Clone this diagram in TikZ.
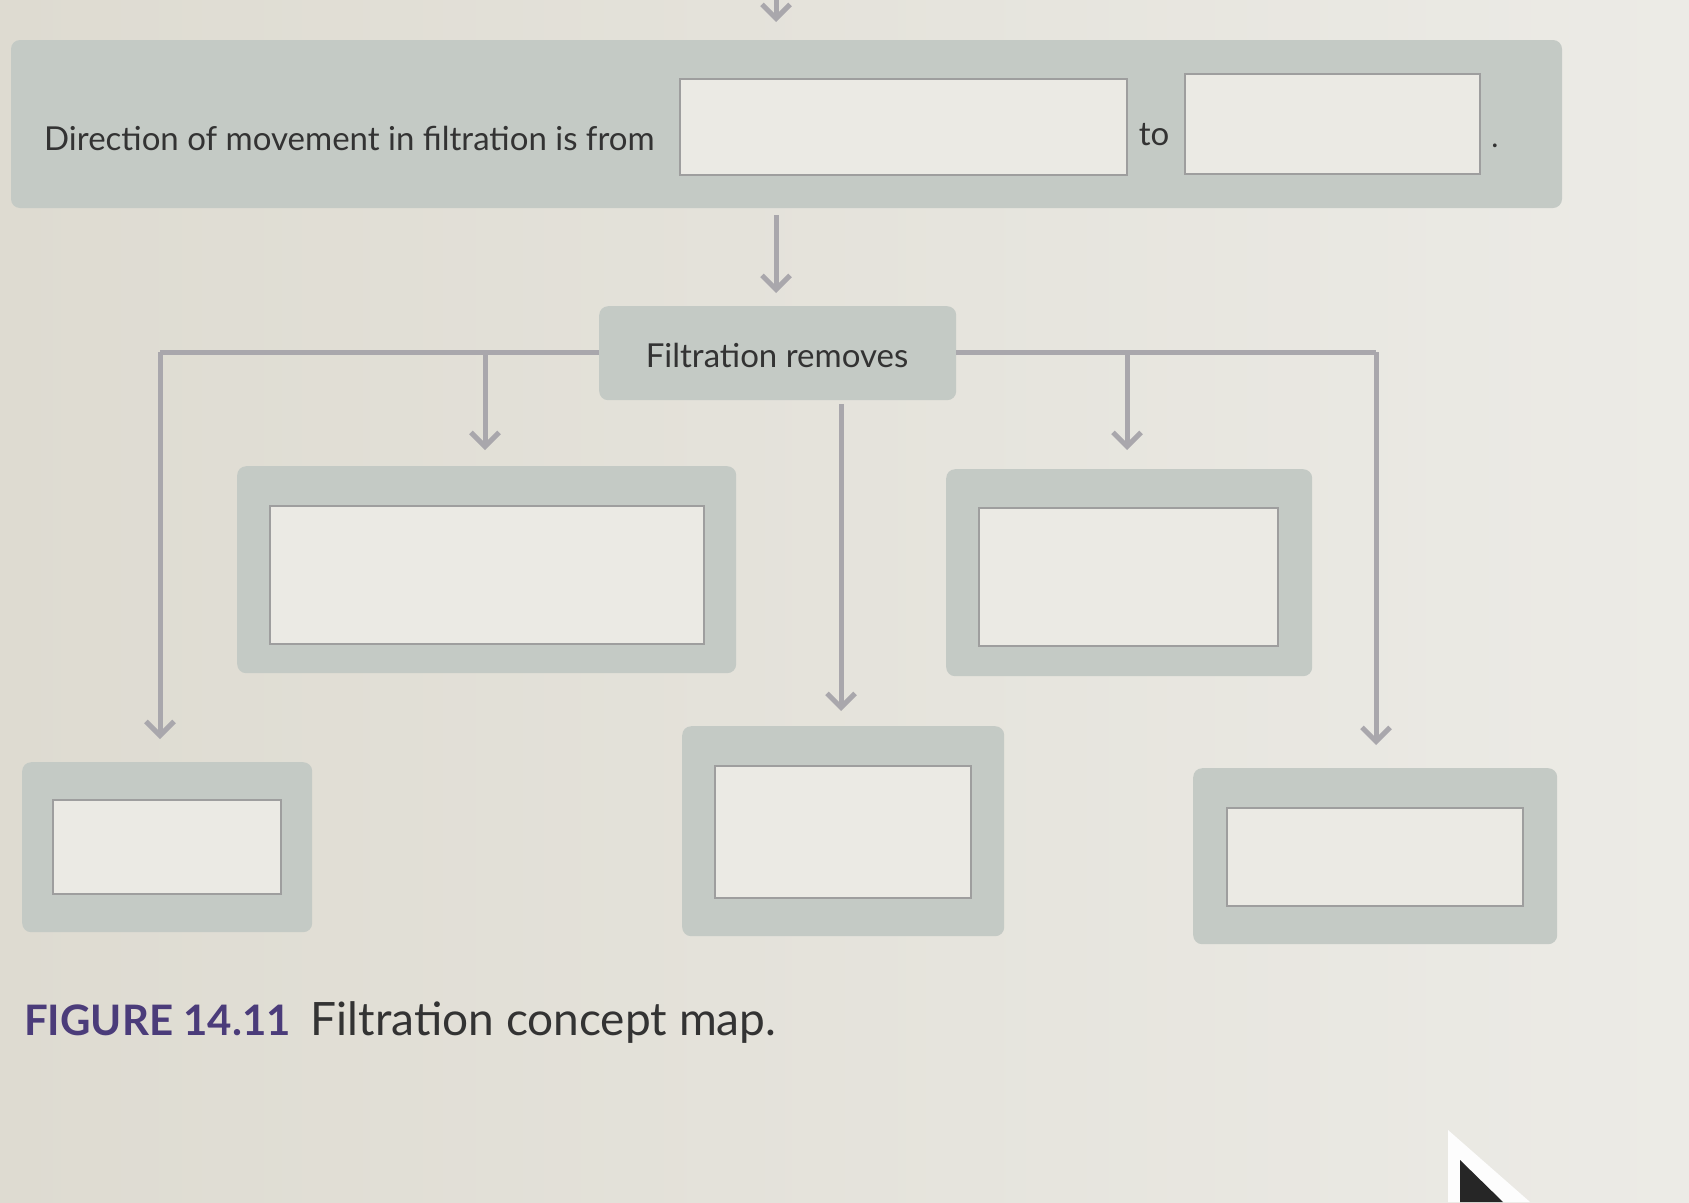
\documentclass[tikz,border=0pt]{standalone}
\usepackage{fontspec}
\setmainfont{Lato}
\usetikzlibrary{arrows.meta}
\definecolor{bgL}{HTML}{DEDBD1}
\definecolor{bgR}{HTML}{ECEBE6}
\definecolor{band}{HTML}{C4CAC5}
\definecolor{blankfill}{HTML}{EBEAE4}
\definecolor{blankline}{HTML}{9E9E9E}
\definecolor{conn}{HTML}{A9A7AC}
\definecolor{ink}{HTML}{333333}
\definecolor{figpurple}{HTML}{4B3C7A}
\tikzset{
  bandbox/.style={fill=band, rounded corners=9pt, draw=none},
  blank/.style={fill=blankfill, draw=blankline, line width=2pt},
  conline/.style={draw=conn, line width=5pt},
  conarrow/.style={draw=conn, line width=5pt, -{Straight Barb[length=14pt,width=28pt]}},
  lbl/.style={text=ink, font=\fontsize{33}{38}\selectfont, inner sep=0pt},
}
\begin{document}
\begin{tikzpicture}[x=1pt,y=-1pt]
\useasboundingbox (0,0) rectangle (1689,1202);
\shade[left color=bgL, right color=bgR] (0,0) rectangle (1689,1202);

% top band
\draw[bandbox] (11,40) rectangle (1562,208);
\node[lbl, anchor=west] (dirtext) at (44,138) {Direction of movement in filtration is from};
\node[blank, minimum width=447pt, minimum height=96pt, anchor=north west] (from) at (679,78) {};
\node[lbl] (to) at (1154,135) {to};
\node[blank, minimum width=295pt, minimum height=100pt, anchor=north west] (tobox) at (1184,73) {};
\node[lbl, anchor=base] (dot) at (1495,147) {\fontsize{30}{34}\selectfont .};

% incoming arrow at top
\coordinate (topin) at (776,-10);
\coordinate (topinend) at (776,22);
\draw[conarrow] (topin) -- (topinend);

% Filtration removes
\coordinate (bandbot) at (776,215);
\node[bandbox, minimum width=357pt, minimum height=94pt, anchor=north west] (removes) at (599,306) {};
\node[lbl] (removestext) at (777,355) {Filtration removes};
\draw[conarrow] (bandbot) -- (776,293);

% outer boxes with blanks
\node[bandbox, minimum width=499pt, minimum height=207pt, anchor=north west] (Aout) at (237,466) {};
\node[blank, minimum width=434pt, minimum height=138pt, anchor=north west] (Ain) at (269,505) {};
\node[bandbox, minimum width=366pt, minimum height=207pt, anchor=north west] (Bout) at (946,469) {};
\node[blank, minimum width=299pt, minimum height=138pt, anchor=north west] (Bin) at (978,507) {};
\node[bandbox, minimum width=290pt, minimum height=170pt, anchor=north west] (Cout) at (22,762) {};
\node[blank, minimum width=228pt, minimum height=94pt, anchor=north west] (Cin) at (52,799) {};
\node[bandbox, minimum width=322pt, minimum height=210pt, anchor=north west] (Dout) at (682,726) {};
\node[blank, minimum width=256pt, minimum height=132pt, anchor=north west] (Din) at (714,765) {};
\node[bandbox, minimum width=364pt, minimum height=176pt, anchor=north west] (Eout) at (1193,768) {};
\node[blank, minimum width=296pt, minimum height=98pt, anchor=north west] (Ein) at (1226,807) {};

% connectors
\coordinate (lcorner) at (160,352);
\coordinate (rcorner) at (1376,352);
\draw[conline] (removes.west |- lcorner) -- (lcorner);
\draw[conline] (removes.east |- rcorner) -- (rcorner);
\draw[conarrow] (lcorner) -- (160,739);
\draw[conarrow] (rcorner) -- (1376,745);
\draw[conarrow] (485,352) -- (485,450);
\draw[conarrow] (1127,352) -- (1127,450);
\draw[conarrow] (removes.south -| 841,0) ++(0,4) -- (841,711);

% caption
\node[anchor=west, inner sep=0pt] (caption) at (24,1022)
  {\textcolor{figpurple}{\fontsize{42}{48}\selectfont\textbf{FIGURE 14.11}}\hspace{20pt}\textcolor{ink}{\fontsize{46}{52}\selectfont Filtration concept map.}};

% mouse pointer
\fill[white!92!bgR] (1448,1130) -- (1448,1202) -- (1530,1202) -- cycle;
\fill[black!85] (1460,1160) -- (1460,1202) -- (1503,1202) -- cycle;
\end{tikzpicture}
\end{document}
